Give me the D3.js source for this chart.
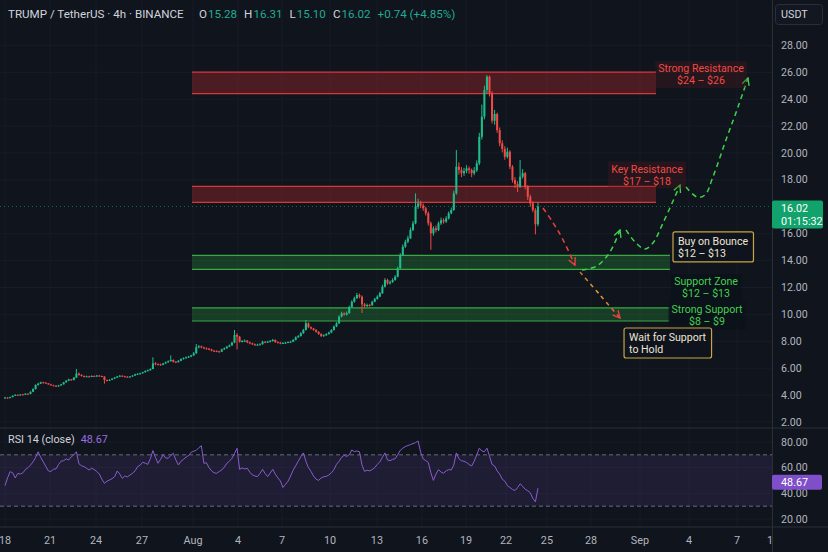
<!DOCTYPE html>
<html><head><meta charset="utf-8">
<script src="https://cdnjs.cloudflare.com/ajax/libs/d3/7.8.5/d3.min.js"></script>
<style>
html,body{margin:0;padding:0;background:#0f141d;overflow:hidden;}
svg{display:block;font-family:Roboto,"Noto Sans",sans-serif;}
</style></head><body>
<svg id="c" width="828" height="552"></svg>
<script>
// ---------------- DATA ----------------
const symbolTitle = "TRUMP / TetherUS · 4h · BINANCE";
const ohlcLabels = ["O","H","L","C"];
const ohlcValues = ["15.28","16.31","15.10","16.02"];
const changeText = "+0.74 (+4.85%)";
const lastPrice = 16.02;
const countdown = "01:15:32";
const rsiLast = 48.67;

const firstOpen = 1.80;
// 4h candles, 6 per day, starting Jul 18
const closes = [
1.82,1.78,1.85,1.95,2.02,1.99,2.05,2.03,2.10,2.08,
2.25,2.45,2.75,2.85,2.95,2.93,2.88,2.80,2.73,2.70,
2.66,2.72,2.80,2.95,3.07,3.17,3.12,3.30,3.60,3.50,
3.42,3.37,3.40,3.36,3.42,3.40,3.45,3.42,3.38,3.12,
3.08,3.14,3.22,3.30,3.38,3.44,3.40,3.37,3.35,3.38,
3.45,3.55,3.58,3.62,3.70,3.79,3.85,3.94,4.36,4.30,
4.29,4.25,4.35,4.44,4.52,4.61,4.48,4.45,4.55,4.68,
4.75,4.81,4.86,4.95,5.10,5.55,5.62,5.55,5.48,5.45,
5.40,5.30,5.28,5.25,5.23,5.40,5.48,5.60,5.70,5.90,
6.47,6.34,5.97,6.02,6.05,5.92,5.85,5.78,5.72,5.75,
5.78,5.97,5.92,5.97,6.02,6.10,5.95,5.90,5.85,5.88,
5.90,5.95,5.97,6.10,6.30,6.39,6.60,6.84,7.34,7.05,
6.95,6.84,6.70,6.55,6.39,6.45,6.54,6.65,6.84,7.10,
7.34,7.83,8.08,7.98,8.10,8.55,8.94,9.20,9.44,9.32,
8.75,8.62,8.70,8.68,8.94,9.15,9.32,9.57,10.06,10.56,
10.31,10.40,10.56,10.80,11.43,12.42,13.03,13.40,13.66,14.28,
14.77,16.00,16.26,16.10,15.89,15.52,14.77,14.03,14.40,14.28,
14.77,15.00,14.90,15.14,15.52,15.76,17.00,18.98,18.74,18.50,
18.65,18.86,18.74,18.50,18.70,19.23,21.20,22.70,24.68,25.67,
24.44,22.40,22.90,21.70,20.72,20.30,19.72,20.10,18.98,17.99,
17.70,17.50,18.24,18.50,17.50,16.75,16.26,15.76,14.70,16.02];
const highs = [
1.86,1.84,1.88,1.98,2.06,2.05,2.08,2.09,2.14,2.13,
2.28,2.50,2.80,2.92,3.00,3.00,2.96,2.90,2.84,2.77,
2.74,2.76,2.84,2.98,3.12,3.22,3.20,3.34,3.94,3.68,
3.56,3.46,3.45,3.44,3.47,3.46,3.50,3.49,3.45,3.40,
3.16,3.18,3.26,3.34,3.42,3.49,3.47,3.44,3.41,3.42,
3.49,3.59,3.63,3.67,3.74,3.84,3.90,3.99,4.81,4.45,
4.36,4.34,4.40,4.50,4.58,4.95,4.66,4.53,4.60,4.73,
4.80,4.87,4.92,5.00,5.20,5.80,5.72,5.68,5.60,5.54,
5.50,5.44,5.36,5.33,5.30,5.45,5.54,5.66,5.76,5.96,
6.84,6.60,6.40,6.10,6.14,6.10,5.98,5.90,5.84,5.82,
5.86,6.04,6.02,6.04,6.10,6.18,6.14,6.00,5.96,5.94,
5.96,6.00,6.04,6.16,6.36,6.46,6.68,6.92,7.58,7.40,
7.10,7.00,6.90,6.75,6.60,6.52,6.60,6.72,6.90,7.18,
7.42,7.92,8.20,8.15,8.22,8.65,9.05,9.32,9.60,9.55,
9.40,8.85,8.80,8.78,9.02,9.24,9.42,9.68,10.20,10.70,
10.65,10.52,10.68,10.92,11.55,12.55,13.20,13.55,13.85,14.45,
14.95,17.00,16.60,16.45,16.25,16.00,15.65,14.90,14.55,14.60,
14.90,15.20,15.15,15.30,15.65,15.95,17.20,20.22,19.30,18.95,
18.90,19.10,19.00,18.85,18.95,19.45,21.50,23.60,25.00,25.80,
25.75,24.60,23.20,23.00,21.90,20.95,20.50,20.40,20.20,19.10,
18.20,17.90,19.48,18.80,18.60,17.60,16.90,16.40,15.90,16.31];
const lows = [
1.76,1.74,1.76,1.83,1.93,1.96,1.97,2.00,2.01,2.04,
2.06,2.22,2.42,2.70,2.82,2.88,2.84,2.76,2.70,2.66,
2.62,2.63,2.70,2.78,2.93,3.04,3.08,3.10,3.28,3.44,
3.38,3.32,3.33,3.31,3.34,3.36,3.37,3.38,3.34,2.85,
3.02,3.05,3.11,3.19,3.27,3.35,3.36,3.33,3.31,3.32,
3.36,3.43,3.52,3.55,3.60,3.68,3.76,3.82,3.92,4.22,
4.22,4.18,4.22,4.32,4.40,4.50,4.42,4.38,4.42,4.52,
4.64,4.72,4.77,4.82,4.92,5.07,5.48,5.48,5.42,5.38,
5.34,5.25,5.22,5.19,5.17,5.20,5.36,5.45,5.57,5.66,
5.86,5.40,5.90,5.92,5.96,5.86,5.78,5.72,5.66,5.68,
5.70,5.75,5.86,5.88,5.92,5.98,5.88,5.84,5.78,5.80,
5.82,5.86,5.90,5.94,6.06,6.26,6.35,6.56,6.80,6.98,
6.88,6.78,6.64,6.48,6.32,6.34,6.40,6.50,6.60,6.80,
7.05,7.30,7.78,7.90,7.92,8.05,8.50,8.88,9.15,9.20,
8.10,8.50,8.55,8.58,8.64,8.90,9.10,9.28,9.52,10.00,
10.20,10.22,10.35,10.50,10.75,11.38,12.35,12.95,13.30,13.60,
14.20,14.70,15.85,15.90,15.70,15.35,14.60,12.80,13.85,14.10,
14.20,14.65,14.75,14.80,15.05,15.45,15.70,16.90,18.40,18.20,
18.30,18.50,18.45,18.20,18.35,18.60,19.10,21.00,22.50,24.40,
24.20,22.20,22.10,21.50,20.50,20.05,19.50,19.60,18.80,17.80,
17.40,17.10,17.40,18.10,17.30,16.50,16.00,15.60,13.95,14.55];
const rsiValues = [
46,52,56.9,56,52,55.5,55,56,58.5,60,
62,64.5,68,72.4,68,64.5,61,57.5,57,58.8,
59,62.5,65,65.5,66.8,66,68.5,70,72.4,63,
61.5,60.8,59.5,58.2,59.6,58.5,57,55,51,47.8,
49.5,50.4,51.5,53,57.4,55,51.7,53.5,52.8,54.2,
55.6,57.5,60.8,62,64.2,63.5,62.6,67,73.3,68,
63.4,66.5,69.9,67.5,67.3,69.5,71.2,66,62.1,65,
66.5,68.2,69.5,72,72.8,73.5,75.5,77.1,63.4,63.8,
60,57.5,56,55.6,57,58.2,60.5,63.4,65,67.3,
71,75.1,58.7,59.8,59,59.5,56.5,54.3,53.5,53,
55.5,58.7,55.5,53,55.8,58.7,55,52,49.6,44.6,
47,49.5,53.5,58,61.5,65,68.5,71.5,65,60,
57.1,53.5,51,50.1,52,52.9,53.2,54.3,56,58.5,
62.6,65,68,69.6,68.8,70,73.8,72.5,73,72.4,
62,57.1,58,57.5,58.5,60,62.6,64.5,68,71.5,
66,65.4,66.5,67,70,73.5,75.2,76.5,77.2,78,
78.8,79.5,80.8,72,66.8,65.5,64,56,50.1,55,
58.5,56.5,55.7,57.5,58.5,58.2,62,71.5,67,65.4,
65,64,62.5,61.3,65,70,75.2,73,72.4,75.2,
69,62.5,61.3,57.5,55,51,49.5,46,44.6,43,
42.2,44.5,47.4,45.5,43.2,42,40.4,36,33.4,44];

const dateTickDays   = [0,2.94,5.95,8.95,12.29,15.23,18.1,21.24,24.31,27.25,30.13,32.75,35.42,38.3,41.5,44.71,47.84,50.2];
const dateTickLabels = ["18","21","24","27","Aug","4","7","10","13","16","19","22","25","28","Sep","4","7","10"];
const priceTickValues = [28,26,24,22,20,18,14,12,10,8,6,4,2,0];
const priceTickLabels = ["28.00","26.00","24.00","22.00","20.00","18.00","16.00","14.00","12.00","10.00","8.00","6.00","4.00","2.00"];
const rsiTickValues = [80,60,40,20];
const rsiTickLabels = ["80.00","60.00","40.00","20.00"];
const rsiBands = [70,30];

// zones: [fromDay, toDay, low, high]
const zoneNames = ["Strong Resistance","Key Resistance","Support Zone","Strong Support"];
const zoneKinds = ["res","res","sup","sup"];
const zoneFrom  = [12.22,12.22,12.22,12.22];
const zoneTo    = [42.55,42.55,43.46,43.46];
const zoneLow   = [24.42,16.33,11.35,7.51];
const zoneHigh  = [26.02,17.52,12.39,8.48];

// projected paths [day, price]
const redProjection    = [[35.16,15.91],[35.75,14.94],[36.41,13.68],[37.25,11.67]];
const orangeProjection = [[37.58,11.15],[38.89,9.44],[40.20,7.73]];
const greenLeg1 = [[37.71,11.30],[38.69,11.60],[39.54,12.64],[40.20,14.28]];
const greenLeg2 = [[40.59,14.28],[41.18,13.38],[41.83,12.86],[42.35,13.31],[43.01,14.80],[44.12,17.62]];
const greenLeg3 = [[44.51,17.47],[45.23,16.73],[45.75,16.88],[46.27,18.22],[47.19,21.19],[47.91,23.42],[48.56,25.58]];

// text annotations: anchor [day, price]
const labelTexts  = [["Strong Resistance","$24 – $26"],["Key Resistance","$17 – $18"],["Support Zone","$12 – $13"],["Strong Support","$8 – $9"]];
const labelAnchor = [[45.49,26.28],[41.96,18.81],[45.82,10.41],[45.88,8.33]];
const labelKinds  = ["res","res","sup","sup"];
const boxTexts  = [["Buy on Bounce","$12 – $13"],["Wait for Support","to Hold"]];
const boxAnchor = [[43.66,14.13],[40.46,6.99]];

// ---------------- DRAW ----------------
const W = 828, H = 552, plotR = 772, sepY = 428, axisY = 527;
const C = {bg:"#0f141d", grid:"#171c27", sep:"#2a2e39", text:"#b2b5be", up:"#20bd8c", down:"#f04a44",
           red:"#f0403c", green:"#3fd34a", purple:"#7e57c2", gold:"#c9a543"};
const svg = d3.select("#c");
svg.append("rect").attr("width",W).attr("height",H).attr("fill",C.bg);

const x  = d3.scaleLinear().domain([0,50]).range([5,770]);
const y  = d3.scaleLinear().domain([0,28]).range([422,45.4]);
const yr = d3.scaleLinear().domain([20,80]).range([519,442]);

const defs = svg.append("defs");
defs.append("clipPath").attr("id","clipMain").append("rect").attr("x",0).attr("y",0).attr("width",plotR).attr("height",sepY);
defs.append("clipPath").attr("id","clipRsi").append("rect").attr("x",0).attr("y",sepY).attr("width",plotR).attr("height",axisY-sepY);
defs.append("clipPath").attr("id","clipAxis").append("rect").attr("x",0).attr("y",axisY).attr("width",plotR).attr("height",H-axisY);
function marker(id,color){
  defs.append("marker").attr("id",id).attr("viewBox","0 0 10 10").attr("refX",9).attr("refY",5)
    .attr("markerWidth",9).attr("markerHeight",9).attr("markerUnits","userSpaceOnUse").attr("orient","auto")
    .append("path").attr("d","M1,1 L9,5 L1,9").attr("fill","none").attr("stroke",color).attr("stroke-width",1.5);
}
marker("arrG",C.green); marker("arrR",C.red);

// grid
const grid = svg.append("g");
grid.selectAll("line.v").data(dateTickDays).join("line")
  .attr("x1",d=>x(d)).attr("x2",d=>x(d)).attr("y1",0).attr("y2",axisY).attr("stroke",C.grid);
grid.selectAll("line.h").data(priceTickValues).join("line")
  .attr("x1",0).attr("x2",plotR).attr("y1",d=>y(d)).attr("y2",d=>y(d)).attr("stroke",C.grid);
grid.selectAll("line.r").data(rsiTickValues).join("line")
  .attr("x1",0).attr("x2",plotR).attr("y1",d=>yr(d)).attr("y2",d=>yr(d)).attr("stroke",C.grid);

const main = svg.append("g").attr("clip-path","url(#clipMain)");

// zones
const zones = zoneNames.map((n,i)=>({n,k:zoneKinds[i],a:zoneFrom[i],b:zoneTo[i],lo:zoneLow[i],hi:zoneHigh[i]}));
const zg = main.append("g");
zones.forEach(z=>{
  const fill = z.k==="res" ? "rgba(200,45,50,0.33)" : "rgba(45,150,60,0.32)";
  const line = z.k==="res" ? "#d9363a" : "#3aa845";
  zg.append("rect").attr("x",x(z.a)).attr("width",x(z.b)-x(z.a)).attr("y",y(z.hi)).attr("height",y(z.lo)-y(z.hi)).attr("fill",fill);
  [z.hi,z.lo].forEach(v=>zg.append("line").attr("x1",x(z.a)).attr("x2",x(z.b)).attr("y1",y(v)).attr("y2",y(v)).attr("stroke",line).attr("stroke-width",1.2));
});

// current price line
main.append("line").attr("x1",0).attr("x2",plotR).attr("y1",y(lastPrice)).attr("y2",y(lastPrice))
  .attr("stroke","#1f8a62").attr("stroke-dasharray","1,3").attr("stroke-opacity",0.7);

// candles
const candles = closes.map((c,i)=>({d:i/6,o:i?closes[i-1]:firstOpen,c,h:highs[i],l:lows[i]}));
const cg = main.append("g");
const bw = (x(1/6)-x(0))*0.8;
cg.selectAll("line").data(candles).join("line")
  .attr("x1",d=>x(d.d)).attr("x2",d=>x(d.d)).attr("y1",d=>y(d.h)).attr("y2",d=>y(d.l))
  .attr("stroke",d=>d.c>=d.o?C.up:C.down).attr("stroke-width",1);
cg.selectAll("rect").data(candles).join("rect")
  .attr("x",d=>x(d.d)-bw/2).attr("width",bw)
  .attr("y",d=>y(Math.max(d.o,d.c))).attr("height",d=>Math.max(1,Math.abs(y(d.o)-y(d.c))))
  .attr("fill",d=>d.c>=d.o?C.up:C.down);

// projections
const line = d3.line().x(d=>x(d[0])).y(d=>y(d[1])).curve(d3.curveCatmullRom.alpha(0.5));
const pg = svg.append("g");
pg.append("path").attr("d",line(redProjection)).attr("fill","none").attr("stroke",C.red).attr("stroke-width",1.5)
  .attr("stroke-dasharray","5,4").attr("marker-end","url(#arrR)");
const og = defs.append("linearGradient").attr("id","og").attr("gradientUnits","userSpaceOnUse")
  .attr("x1",x(orangeProjection[0][0])).attr("y1",y(orangeProjection[0][1]))
  .attr("x2",x(orangeProjection[2][0])).attr("y2",y(orangeProjection[2][1]));
og.append("stop").attr("offset","0").attr("stop-color","#b8742a");
og.append("stop").attr("offset","0.45").attr("stop-color","#e3a935");
og.append("stop").attr("offset","1").attr("stop-color","#f0403c");
pg.append("path").attr("d",line(orangeProjection)).attr("fill","none").attr("stroke","url(#og)").attr("stroke-width",1.5)
  .attr("stroke-dasharray","4,4").attr("marker-end","url(#arrR)");
[greenLeg1,greenLeg2,greenLeg3].forEach(g=>{
  pg.append("path").attr("d",line(g)).attr("fill","none").attr("stroke",C.green).attr("stroke-width",1.5)
    .attr("stroke-dasharray","5,4").attr("marker-end","url(#arrG)");
});

// labels
const ag = svg.append("g").attr("font-size","10.6px");
labelTexts.forEach((lines,i)=>{
  const cx = x(labelAnchor[i][0]), cy = y(labelAnchor[i][1]);
  const col = labelKinds[i]==="res" ? "#f04a44" : "#44d04e";
  const g = ag.append("g");
  const bg = g.append("rect");
  lines.forEach((t,j)=>g.append("text").attr("x",cx).attr("y",cy+j*12).attr("dominant-baseline","central")
    .attr("text-anchor","middle").attr("fill",col).text(t));
  const bb = g.node().getBBox();
  bg.attr("x",bb.x-3).attr("y",bb.y-1).attr("width",bb.width+6).attr("height",bb.height+2)
    .attr("fill",labelKinds[i]==="res" ? "rgba(90,25,30,0.3)" : "rgba(12,18,26,0.75)");
});
boxTexts.forEach((lines,i)=>{
  const lx = x(boxAnchor[i][0]), ty = y(boxAnchor[i][1]);
  const g = ag.append("g");
  const bg = g.append("rect");
  lines.forEach((t,j)=>g.append("text").attr("x",lx+5).attr("y",ty+9.5+j*11.7).attr("dominant-baseline","central")
    .attr("fill","#ece6d2").text(t));
  const bb = g.node().getBBox();
  bg.attr("x",lx).attr("y",ty).attr("width",bb.width+10).attr("height",30).attr("rx",2)
    .attr("fill","rgba(15,20,29,0.92)").attr("stroke",C.gold).attr("stroke-width",1.2);
});

// RSI pane
const rg = svg.append("g").attr("clip-path","url(#clipRsi)");
rg.append("rect").attr("x",0).attr("width",plotR).attr("y",yr(rsiBands[0])).attr("height",yr(rsiBands[1])-yr(rsiBands[0]))
  .attr("fill","rgba(126,87,194,0.14)");
rsiBands.forEach(v=>rg.append("line").attr("x1",0).attr("x2",plotR).attr("y1",yr(v)).attr("y2",yr(v))
  .attr("stroke","#787b86").attr("stroke-dasharray","4,3").attr("stroke-opacity",0.85));
rg.append("path").attr("d",d3.line().x((d,i)=>x(i/6)).y(d=>yr(d))(rsiValues))
  .attr("fill","none").attr("stroke","#8a5cd0").attr("stroke-width",1);
svg.append("text").attr("x",8).attr("y",439).attr("dominant-baseline","central").attr("font-size","10.8px")
  .attr("fill","#d1d4dc").text("RSI 14 (close)")
  .append("tspan").attr("dx",6).attr("fill","#9a6ee0").text(rsiLast.toFixed(2));

// separators
svg.append("line").attr("x1",0).attr("x2",W).attr("y1",sepY).attr("y2",sepY).attr("stroke",C.sep);
svg.append("line").attr("x1",0).attr("x2",W).attr("y1",axisY).attr("y2",axisY).attr("stroke",C.sep);

// x axis labels
svg.append("g").attr("clip-path","url(#clipAxis)").selectAll("text").data(dateTickDays).join("text")
  .attr("x",d=>x(d)).attr("y",540).attr("text-anchor","middle").attr("dominant-baseline","central")
  .attr("font-size","10.8px").attr("fill",C.text).text((d,i)=>dateTickLabels[i]);

// right price axis
svg.append("rect").attr("x",plotR).attr("y",0).attr("width",W-plotR).attr("height",H).attr("fill",C.bg);
svg.append("line").attr("x1",plotR+0.5).attr("x2",plotR+0.5).attr("y1",0).attr("y2",H).attr("stroke",C.sep);
svg.append("line").attr("x1",plotR).attr("x2",W).attr("y1",sepY).attr("y2",sepY).attr("stroke",C.sep);
svg.append("line").attr("x1",plotR).attr("x2",W).attr("y1",axisY).attr("y2",axisY).attr("stroke",C.sep);
const ax = svg.append("g").attr("font-size","10.6px").attr("fill",C.text);
ax.selectAll("text.p").data(priceTickValues).join("text").attr("x",781).attr("y",d=>y(d))
  .attr("dominant-baseline","central").text((d,i)=>priceTickLabels[i]);
ax.selectAll("text.r").data(rsiTickValues).join("text").attr("x",781).attr("y",d=>yr(d))
  .attr("dominant-baseline","central").text((d,i)=>rsiTickLabels[i]);
svg.append("rect").attr("x",775.5).attr("y",4.5).attr("width",47).attr("height",20).attr("rx",3)
  .attr("fill","#131722").attr("stroke","#2a2e39");
svg.append("text").attr("x",781).attr("y",14.5).attr("dominant-baseline","central").attr("font-size","10.8px")
  .attr("fill","#d1d4dc").text("USDT");
// last price tag
const py = y(lastPrice);
svg.append("rect").attr("x",plotR).attr("y",py-6).attr("width",51).attr("height",28).attr("rx",2).attr("fill","#12a26c");
svg.append("text").attr("x",781).attr("y",py+1.5).attr("dominant-baseline","central").attr("font-size","10.8px")
  .attr("fill","#ffffff").text(lastPrice.toFixed(2));
svg.append("text").attr("x",781).attr("y",py+14.5).attr("dominant-baseline","central").attr("font-size","10.8px")
  .attr("fill","#ffffff").text(countdown);
// rsi tag
const ry = yr(rsiLast);
svg.append("rect").attr("x",plotR).attr("y",ry-7.5).attr("width",50).attr("height",15).attr("rx",2).attr("fill","#7e4fc9");
svg.append("text").attr("x",781).attr("y",ry).attr("dominant-baseline","central").attr("font-size","10.8px")
  .attr("fill","#ffffff").text(rsiLast.toFixed(2));

// header
const hdr = svg.append("g").attr("font-size","11.6px");
hdr.append("text").attr("x",8).attr("y",14).attr("dominant-baseline","central").attr("fill","#d1d4dc").text(symbolTitle);
let hx = 199;
ohlcLabels.forEach((lab,i)=>{
  const a = hdr.append("text").attr("x",hx).attr("y",14).attr("dominant-baseline","central").attr("fill","#d1d4dc").text(lab);
  hx += a.node().getComputedTextLength()+1;
  const b = hdr.append("text").attr("x",hx).attr("y",14).attr("dominant-baseline","central").attr("fill","#22ab94").text(ohlcValues[i]);
  hx += b.node().getComputedTextLength()+7;
});
hdr.append("text").attr("x",hx).attr("y",14).attr("dominant-baseline","central").attr("fill","#22ab94").text(changeText);
</script>
</body></html>
